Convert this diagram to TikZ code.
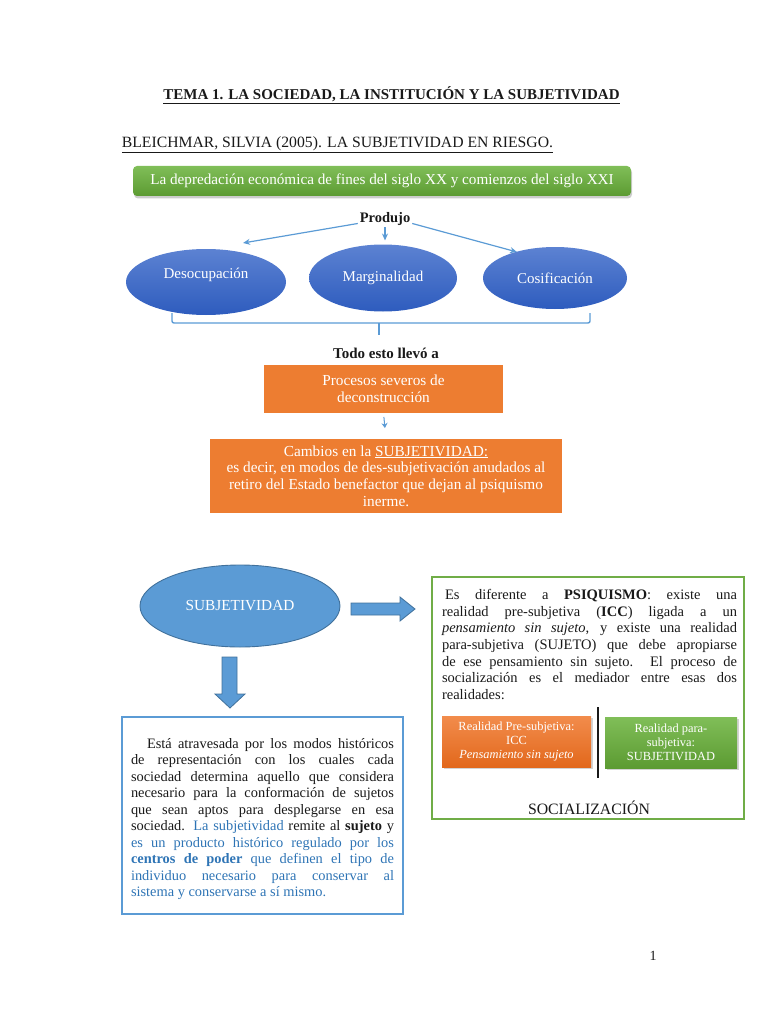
\documentclass[tikz,border=0pt]{standalone}
\usepackage{fontspec}
\setmainfont{Liberation Serif}
\usetikzlibrary{shapes.geometric,shadows,calc,arrows.meta}
\definecolor{grt}{RGB}{128,190,88}
\definecolor{grb}{RGB}{92,155,50}
\definecolor{grline}{RGB}{112,173,71}
\definecolor{orng}{RGB}{237,125,49}
\definecolor{ort}{RGB}{242,140,76}
\definecolor{orb}{RGB}{226,104,28}
\definecolor{lb}{RGB}{91,155,213}
\definecolor{lbd}{RGB}{65,113,156}
\definecolor{blt}{RGB}{92,130,210}
\definecolor{blb}{RGB}{46,92,190}
\definecolor{txb}{RGB}{46,116,181}
\definecolor{ink}{RGB}{25,25,25}
\newcommand\jl[2]{\makebox[#1][s]{\spaceskip=0pt\xspaceskip=0pt #2}}
\begin{document}
\begin{tikzpicture}[x=1pt,y=-1pt,
  every node/.style={inner sep=0pt,outer sep=0pt,text=ink},
  ell/.style={ellipse,top color=blt,bottom color=blb,draw=none,text=white,
    font=\fontsize{15}{17}\selectfont},
  obox/.style={rectangle,fill=orng,text=white,align=center,font=\fontsize{15.3}{16.8}\selectfont},
  thin arrow/.style={draw=lb,line width=1.2pt,-{Stealth[length=7pt,width=6pt]}},
  block/.style={fill=lb,draw=lbd,line width=0.8pt},
  smallbox/.style={rectangle,text=white,align=center,font=\fontsize{12.4}{14}\selectfont,
    drop shadow={opacity=0.35,shadow xshift=1.5pt,shadow yshift=-2pt}},
]
\useasboundingbox (0,0) rectangle (768,1024);

% headings
\node[font=\bfseries\fontsize{15}{17}\selectfont] (title) at (391.5,95)
  {\underline{TEMA 1. LA SOCIEDAD, LA INSTITUCIÓN Y LA SUBJETIVIDAD}};
\node[font=\fontsize{15.7}{17}\selectfont] (ref) at (337.5,145)
  {\underline{BLEICHMAR, SILVIA (2005). LA SUBJETIVIDAD EN RIESGO.}};

% top green box
\node[rectangle,rounded corners=4pt,minimum width=498pt,minimum height=30pt,
  top color=grt,bottom color=grb,text=white,font=\fontsize{15.2}{17}\selectfont,
  drop shadow={opacity=0.4,shadow xshift=1pt,shadow yshift=-2.5pt}] (dep) at (382,181)
  {La depredación económica de fines del siglo XX y comienzos del siglo XXI};

\node[font=\bfseries\fontsize{14.5}{17}\selectfont] (produjo) at (385,219) {Produjo};

\node[ell,minimum width=160pt,minimum height=66pt] (e1) at (206,282) {\raisebox{7pt}[\height][\depth]{Desocupación}};
\node[ell,minimum width=148pt,minimum height=67pt] (e2) at (383,278) {Marginalidad};
\node[ell,minimum width=144pt,minimum height=62pt] (e3) at (555,278) {Cosificación};

\draw[thin arrow] ($(produjo.base west)+(-2,1)$) -- ($(e1.north)+(37,-6)$);
\draw[thin arrow] ($(produjo.base)+(0,5)$) -- ($(e2.north)+(2,-4)$);
\draw[thin arrow] ($(produjo.base east)+(2,1)$) -- ($(e3.north)+(-38,5)$);

% bracket
\draw[lb,line width=1.4pt,rounded corners=2pt] (172,313) -- (172,323) -- (590,323) -- (590,313);
\draw[lb,line width=1.4pt] (379,323) -- (379,335);

\node[font=\bfseries\fontsize{15}{17}\selectfont] (todo) at (386,353) {Todo esto llevó a};

\node[obox,minimum width=239pt,minimum height=48pt] (ob1) at (383.5,389)
  {Procesos severos de\\deconstrucción};
\node[obox,minimum width=352pt,minimum height=74pt] (ob2) at (386,476)
  {Cambios en la \underline{SUBJETIVIDAD:}\\
   es decir, en modos de des-subjetivación anudados al\\
   retiro del Estado benefactor que dejan al psiquismo\\
   inerme.};
\draw[draw=lb,line width=1pt,-{Stealth[length=5pt,width=6pt]},shorten <=4pt,shorten >=11pt] (ob1.south) -- (ob2.north);

% SUBJETIVIDAD
\node[ellipse,fill=lb,draw=lbd,line width=0.9pt,minimum width=200pt,minimum height=82pt,
  text=white,font=\fontsize{15.3}{17}\selectfont] (subj) at (240,606) {SUBJETIVIDAD};

% block arrows
\draw[block] (351,603) -- (400,603) -- (400,597) -- (415,609) -- (400,621) -- (400,615) -- (351,615) -- cycle;
\draw[block] (222,657) -- (237,657) -- (237,694) -- (245,694) -- (230,708) -- (215,694) -- (222,694) -- cycle;

% left text box
\node[draw=lb,line width=1.5pt,minimum width=281pt,minimum height=197pt] (lbox) at (262.5,815.5) {};
\node[text width=263pt,align=justify,font=\fontsize{14.4}{16.5}\selectfont] (ltext) at (262.5,819)
  {\jl{263pt}{\hspace{16pt}Está atravesada por los modos históricos}\\
   \jl{263pt}{de representación con los cuales cada}\\
   \jl{263pt}{sociedad determina aquello que considera}\\
   \jl{263pt}{necesario para la conformación de sujetos}\\
   \jl{263pt}{que sean aptos para desplegarse en esa}\\
   \jl{263pt}{sociedad. \textcolor{txb}{La subjetividad} remite al \textbf{sujeto} y}\\
   \color{txb}\jl{263pt}{es un producto histórico regulado por los}\\
   \jl{263pt}{\textbf{centros de poder} que definen el tipo de}\\
   \jl{263pt}{individuo necesario para conservar al}\\
   sistema y conservarse a sí mismo.};

% right box
\node[draw=grline,line width=1.2pt,minimum width=312pt,minimum height=242pt] (rbox) at (588,698) {};
\node[anchor=north west,text width=295pt,align=justify,font=\fontsize{14.5}{16.6}\selectfont] (rtext) at (442,589.5)
  {\jl{295pt}{\hspace{3pt}Es diferente a \textbf{PSIQUISMO}: existe una}\\
   \jl{295pt}{realidad pre-subjetiva (\textbf{ICC}) ligada a un}\\
   \jl{295pt}{\textit{pensamiento sin sujeto}, y existe una realidad}\\
   \jl{295pt}{para-subjetiva (SUJETO) que debe apropiarse}\\
   \jl{295pt}{de ese pensamiento sin sujeto. El proceso de}\\
   \jl{295pt}{socialización es el mediador entre esas dos}\\
   realidades:};

\node[smallbox,top color=ort,bottom color=orb,minimum width=149pt,minimum height=51pt] (pre) at (516.5,741.5)
  {Realidad Pre-subjetiva:\\ICC\\\textit{Pensamiento sin sujeto}};
\node[smallbox,top color=grt,bottom color=grb,minimum width=132pt,minimum height=51pt] (para) at (671,742.5)
  {Realidad para-\\subjetiva:\\SUBJETIVIDAD};
\draw[ink,line width=2pt] (598,707) -- (598,778);
\node[font=\fontsize{15.8}{17}\selectfont] (soc) at (589,808) {SOCIALIZACIÓN};

\node[font=\fontsize{14}{17}\selectfont] (page) at (653,956) {1};
\end{tikzpicture}
\end{document}
